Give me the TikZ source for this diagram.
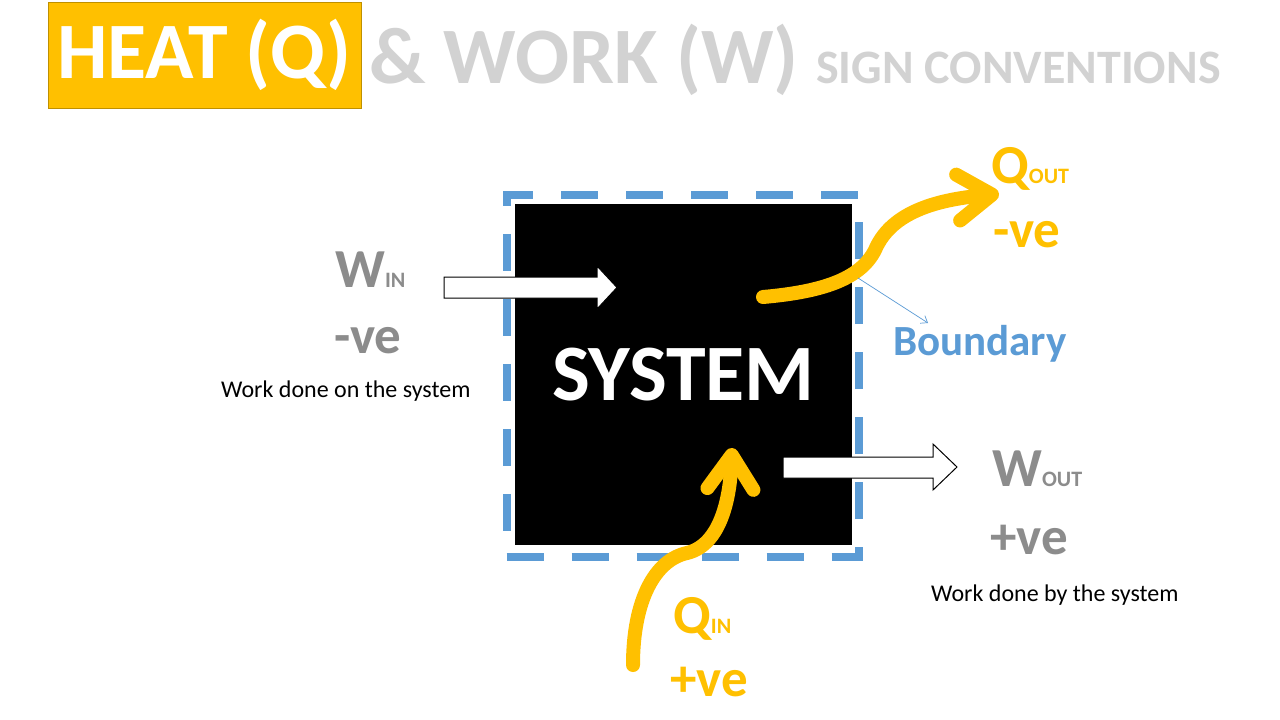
\documentclass[tikz,border=0pt]{standalone}
\usepackage{fontspec}
\setmainfont{Carlito}
\usepackage{xcolor}
\usepackage{tikz}
\usetikzlibrary{arrows.meta}

\definecolor{heatyel}{HTML}{FFC000}
\definecolor{bndblue}{HTML}{5B9BD5}
\definecolor{lblgray}{HTML}{8C8C8C}
\definecolor{ttlgray}{HTML}{D2D2D2}
\newcommand{\fsz}[1]{\fontsize{#1}{#1}\selectfont}
\newcommand{\subcap}[1]{{\fsz{22}#1}}

\begin{document}
\begin{tikzpicture}[x=1pt,y=-1pt,
  txt/.style={inner sep=0pt,anchor=base west},
  biglbl/.style={txt,font=\fsz{55}\bfseries},
  signlbl/.style={txt,font=\fsz{53}\bfseries},
  heatline/.style={draw=heatyel,line width=14pt,line cap=round,-{Straight Barb[length=34pt,width=46pt,round]}},
  blockarrow/.style={draw=black,fill=white,line width=1pt,line join=miter}]
  \useasboundingbox[fill=white] (0,0) rectangle (1280,720);

  % title
  \node[fill=heatyel,draw=heatyel!75!black,minimum width=313pt,minimum height=106pt,inner sep=0pt,text=white,font=\fsz{80}\bfseries] (heat) at (204.5,55) {HEAT (Q)};
  \node[txt,text=ttlgray,font=\fsz{80}\bfseries] (work) at (369,83) {\& WORK (W)};
  \node[txt,text=ttlgray,font=\fsz{48}\bfseries] (sign) at (816,83) {SIGN CONVENTIONS};

  % boundary and system
  \node[draw=bndblue,line width=8pt,dash pattern=on 37pt off 28pt,minimum width=352pt,minimum height=362pt,inner sep=0pt] (bnd) at (682.5,376) {};
  \node[fill=black,minimum width=337pt,minimum height=341pt,inner sep=0pt,text=white,font=\fsz{80}\bfseries] (sys) at (683.5,374.5) {SYSTEM};

  % work arrows
  \draw[blockarrow] (444,277) -- (597,277) -- (597,266) -- (617,287.5) -- (597,309) -- (597,298) -- (444,298) -- cycle;
  \draw[blockarrow] (783,457) -- (933,457) -- (933,444) -- (957,467) -- (933,490) -- (933,478) -- (783,478) -- cycle;

  % heat arrows
  \coordinate (qin0) at (633,665);
  \coordinate (qin1) at (732,448);
  \coordinate (qout0) at (763,297);
  \coordinate (qout1) at (999,194);
  \draw[heatline] (qin0) .. controls (633,600) and (655,560) .. (687,553) .. controls (720,545) and (730,500) .. (qin1);
  \draw[heatline] (qout0) .. controls (820,292) and (860,280) .. (875,250) .. controls (890,215) and (930,200) .. (qout1);

  % labels
  \node[biglbl,text=lblgray] (win) at (335,287) {W\subcap{IN}};
  \node[signlbl,text=lblgray] (winsg) at (334,353) {-ve};
  \node[txt,font=\fsz{24}] (wontxt) at (221,397) {Work done on the system};

  \node[biglbl,text=heatyel] (qout) at (991,183) {Q\subcap{OUT}};
  \node[signlbl,text=heatyel] (qoutsg) at (993,247) {-ve};

  \node[txt,text=bndblue,font=\fsz{43}\bfseries] (blbl) at (893,355) {Boundary};
  \coordinate (bp0) at (858,278);
  \coordinate (bp1) at (928,323);
  \draw[bndblue,line width=0.7pt,-{Straight Barb[length=6pt,width=9pt]}] (bp0) -- (bp1);

  \node[biglbl,text=lblgray] (wout) at (992,486) {W\subcap{OUT}};
  \node[signlbl,text=lblgray] (woutsg) at (990,554) {+ve};
  \node[txt,font=\fsz{24}] (wbytxt) at (931,601) {Work done by the system};

  \node[biglbl,text=heatyel] (qin) at (673,633) {Q\subcap{IN}};
  \node[signlbl,text=heatyel] (qinsg) at (670,696) {+ve};
\end{tikzpicture}
\end{document}
